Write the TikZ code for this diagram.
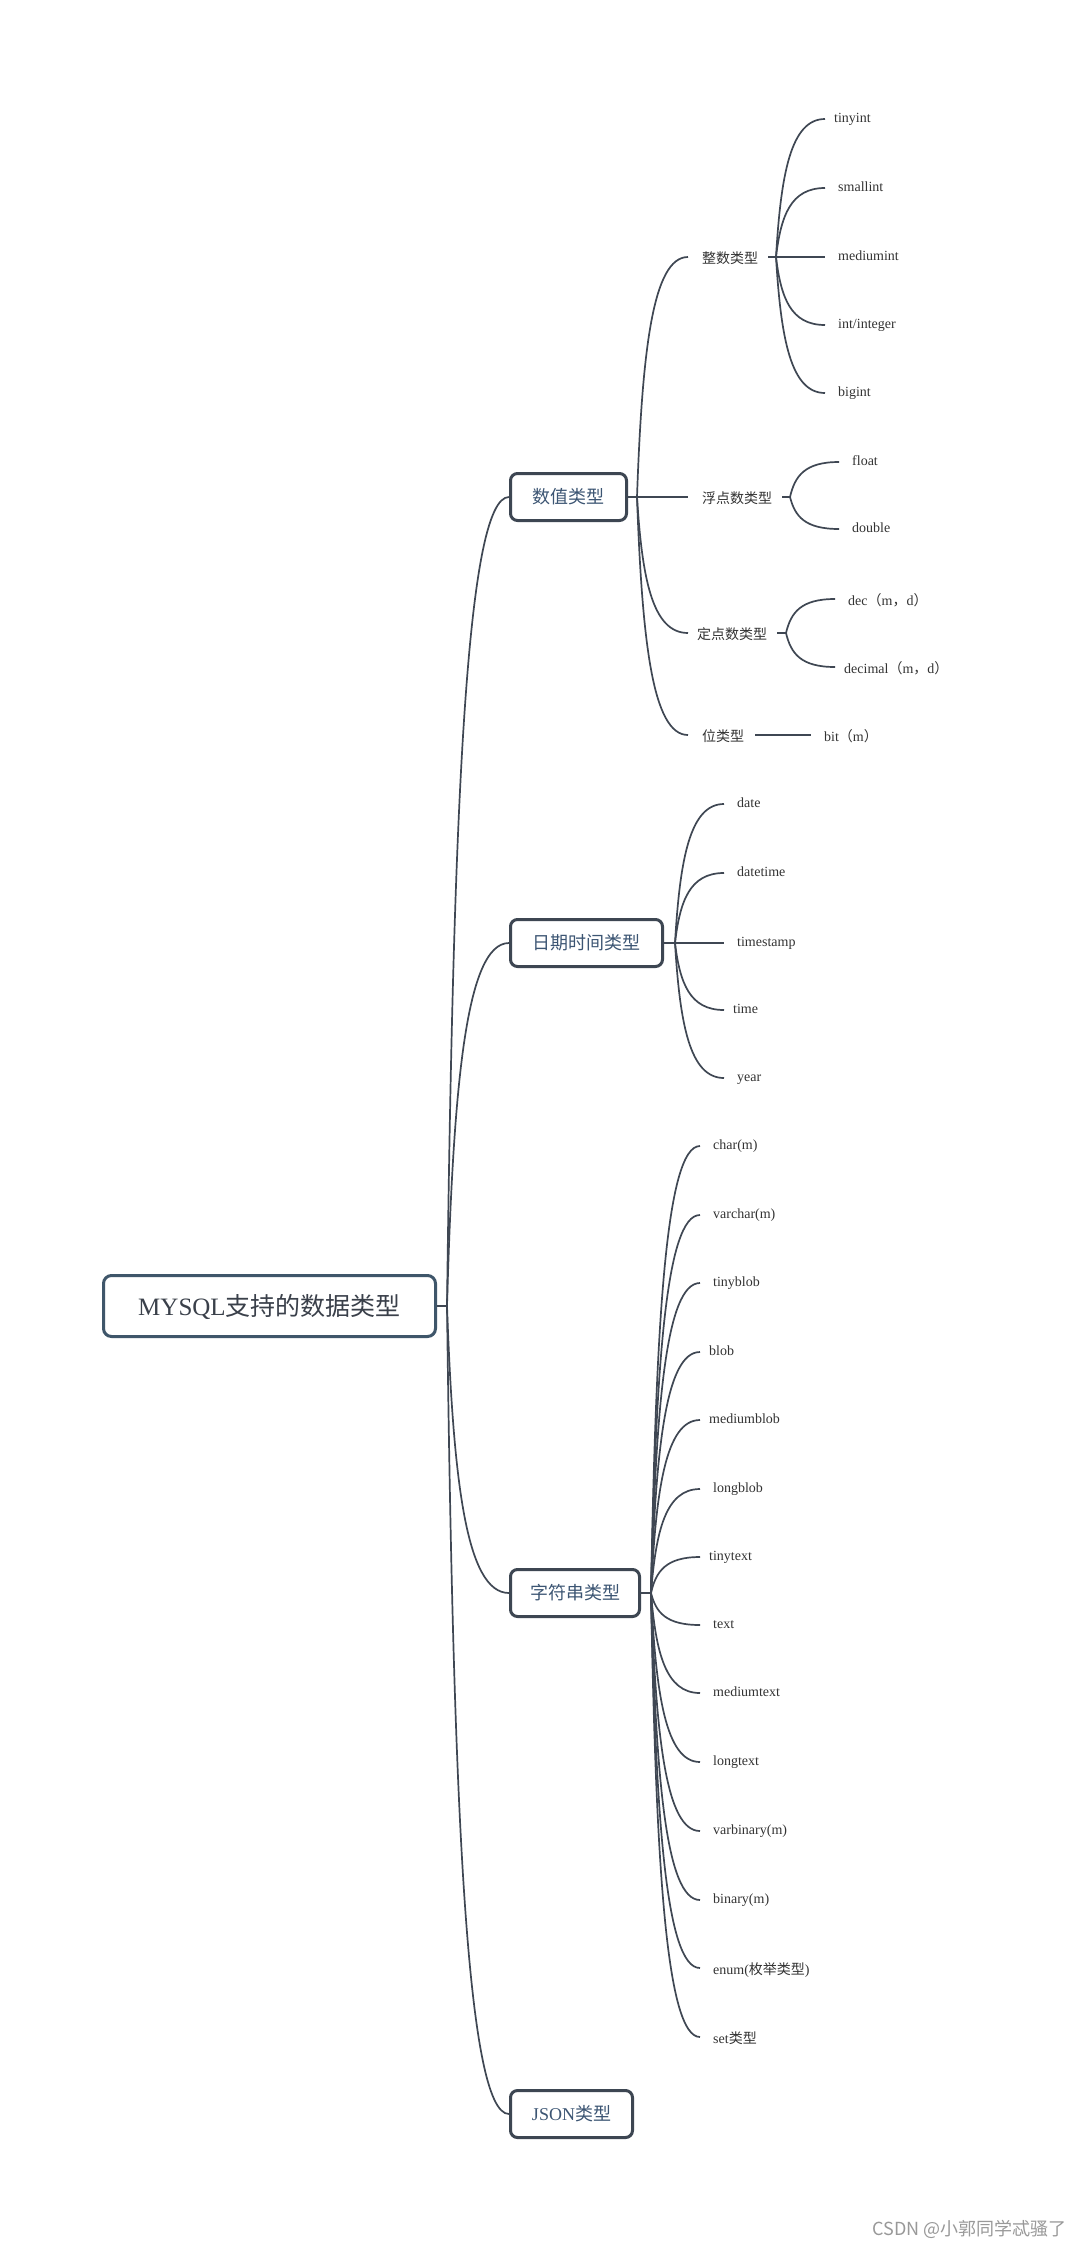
\documentclass[tikz,border=0pt]{standalone}
\usepackage{fontspec}
\setmainfont{Liberation Serif}
\newfontfamily\cjk{Noto Sans CJK SC}
\newfontfamily\serifl{Liberation Serif}
\usetikzlibrary{calc}
\newcommand\fsz[1]{\fontsize{#1}{#1}\selectfont}
\definecolor{lnc}{HTML}{3F4753}
\definecolor{boxc}{HTML}{3D4652}
\definecolor{rootc}{HTML}{3F566A}
\definecolor{boxt}{HTML}{3C5573}
\definecolor{roott}{HTML}{3A404A}
\definecolor{leafc}{HTML}{333333}
\begin{document}
\begin{tikzpicture}[x=1pt,y=-1pt,
  mm/.style={to path={let \p1=(\tikztostart),\p2=(\tikztotarget) in
     .. controls ({\x1+0.1*(\x2-\x1)},{\y1+0.6*(\y2-\y1)}) and ({\x1+0.3*(\x2-\x1)},\y2) .. (\tikztotarget) \tikztonodes}},
  conn/.style={draw=lnc, line width=1.7pt},
  leaf/.style={anchor=west, inner sep=0pt, text=leafc, font=\fsz{14}, text height=11.2pt, text depth=3.5pt},
  cleaf/.style={leaf, text height=15pt, text depth=1.3pt},
  box/.style={draw=boxc, line width=3pt, rounded corners=7pt, minimum height=47pt, inner sep=0pt,
     anchor=west, text=boxt, font=\cjk\fsz{18}, text height=15.8pt, text depth=2.2pt},
]
\useasboundingbox[fill=white] (0,0) rectangle (1081,2248);

% root
\node[draw=rootc, line width=3pt, rounded corners=8pt, minimum width=332pt, minimum height=61pt,
      inner sep=0pt, anchor=west, text=roott, text height=22pt, text depth=3pt]
      (root) at (102,1306) {\fsz{25}MYSQL{\cjk 支持的数据类型}};
\coordinate (jr) at (447,1306);

% level 1
\node[box, minimum width=116pt] (n1) at (509,497) {数值类型};
\node[box, minimum width=152pt] (n2) at (509,943) {日期时间类型};
\node[box, minimum width=129pt] (n3) at (509,1593) {字符串类型};
\node[box, minimum width=122pt] (n4) at (509,2114) {{\serifl JSON}类型};

\draw[conn] (root.east) -- (jr);
\draw[conn] (jr) to[mm] (n1.west);
\draw[conn] (jr) to[mm] (n2.west);
\draw[conn] (jr) to[mm] (n3.west);
\draw[conn] (jr) to[mm] (n4.west);

% ---- numeric
\coordinate (j1) at (637,497);
\coordinate (e1) at (688,0);
\node[cleaf] (a1) at (702,257) {\cjk 整数类型};
\node[cleaf] (a2) at (702,497) {\cjk 浮点数类型};
\node[cleaf] (a3) at (697,633) {\cjk 定点数类型};
\node[cleaf] (a4) at (702,735) {\cjk 位类型};
\draw[conn] (n1.east) -- (j1);
\draw[conn] (j1) to[mm] (a1.west -| e1);
\draw[conn] (j1) to[mm] (a2.west -| e1);
\draw[conn] (j1) to[mm] (a3.west -| e1);
\draw[conn] (j1) to[mm] (a4.west -| e1);

% integer
\coordinate (ja1) at (776,257);
\coordinate (e11) at (825,0);
\node[leaf] (tinyint) at (834,119) {tinyint};
\node[leaf] (smallint) at (838,188) {smallint};
\node[leaf] (mediumint) at (838,257) {mediumint};
\node[leaf] (intinteger) at (838,325) {int/integer};
\node[leaf] (bigint) at (838,393) {bigint};
\draw[conn] ([xshift=10pt]a1.east) -- (ja1);
\draw[conn] (ja1) to[mm] (tinyint.west -| e11);
\draw[conn] (ja1) to[mm] (smallint.west -| e11);
\draw[conn] (ja1) to[mm] (mediumint.west -| e11);
\draw[conn] (ja1) to[mm] (intinteger.west -| e11);
\draw[conn] (ja1) to[mm] (bigint.west -| e11);

% float
\coordinate (ja2) at (790,497);
\coordinate (e12) at (839,0);
\node[leaf] (float) at (852,462) {float};
\node[leaf] (double) at (852,529) {double};
\draw[conn] ([xshift=10pt]a2.east) -- (ja2);
\draw[conn] (ja2) to[mm] (float.west -| e12);
\draw[conn] (ja2) to[mm] (double.west -| e12);

% fixed
\coordinate (ja3) at (786,633);
\coordinate (e13) at (835,0);
\node[cleaf] (dec) at (848,599) {dec{\cjk（}m{\cjk，}d{\cjk）}};
\node[cleaf] (decimal) at (844,667) {decimal{\cjk（}m{\cjk，}d{\cjk）}};
\draw[conn] ([xshift=10pt]a3.east) -- (ja3);
\draw[conn] (ja3) to[mm] (dec.west -| e13);
\draw[conn] (ja3) to[mm] (decimal.west -| e13);

% bit
\coordinate (e14) at (811,0);
\node[cleaf] (bit) at (824,735) {bit{\cjk（}m{\cjk）}};
\draw[conn] ([xshift=11pt]a4.east) -- (bit.west -| e14);

% ---- date/time
\coordinate (j2) at (675,943);
\coordinate (e2) at (724,0);
\node[leaf] (date) at (737,804) {date};
\node[leaf] (datetime) at (737,873) {datetime};
\node[leaf] (timestamp) at (737,943) {timestamp};
\node[leaf] (time) at (733,1010) {time};
\node[leaf] (year) at (737,1078) {year};
\draw[conn] (n2.east) -- (j2);
\draw[conn] (j2) to[mm] (date.west -| e2);
\draw[conn] (j2) to[mm] (datetime.west -| e2);
\draw[conn] (j2) to[mm] (timestamp.west -| e2);
\draw[conn] (j2) to[mm] (time.west -| e2);
\draw[conn] (j2) to[mm] (year.west -| e2);

% ---- strings
\coordinate (j3) at (651,1593);
\coordinate (e3) at (700,0);
\node[leaf] (s1) at (713,1146) {char(m)};
\node[leaf] (s2) at (713,1215) {varchar(m)};
\node[leaf] (s3) at (713,1283) {tinyblob};
\node[leaf] (s4) at (709,1352) {blob};
\node[leaf] (s5) at (709,1420) {mediumblob};
\node[leaf] (s6) at (713,1489) {longblob};
\node[leaf] (s7) at (709,1557) {tinytext};
\node[leaf] (s8) at (713,1625) {text};
\node[leaf] (s9) at (713,1693) {mediumtext};
\node[leaf] (s10) at (713,1762) {longtext};
\node[leaf] (s11) at (713,1831) {varbinary(m)};
\node[leaf] (s12) at (713,1900) {binary(m)};
\node[cleaf] (s13) at (713,1968) {enum({\cjk 枚举类型})};
\node[cleaf] (s14) at (713,2037) {set{\cjk 类型}};
\draw[conn] (n3.east) -- (j3);
\foreach \s in {s1,s2,s3,s4,s5,s6,s7,s8,s9,s10,s11,s12,s13,s14}
  \draw[conn] (j3) to[mm] (\s.west -| e3);

% watermark
\node[anchor=east, inner sep=0pt, text=black!40, font=\cjk\fsz{18}] (wm) at (1067,2229) {CSDN @小郭同学忒骚了};
\end{tikzpicture}
\end{document}
